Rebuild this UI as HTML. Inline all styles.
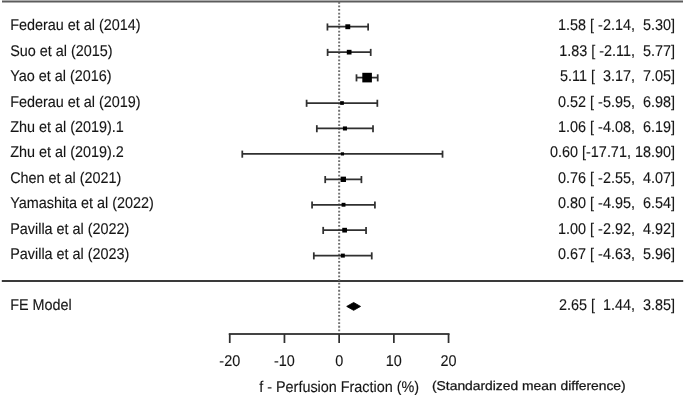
<!DOCTYPE html>
<html><head><meta charset="utf-8"><style>
html,body{margin:0;padding:0;background:#fff;width:685px;height:395px;overflow:hidden}
svg{display:block}
text{text-rendering:geometricPrecision;font-family:"Liberation Sans",Arial,sans-serif;font-size:14.4px;fill:#151515;stroke:#151515;stroke-width:0.12}
text.sm{font-size:13.85px;stroke-width:0.28}
</style></head><body>
<svg width="685" height="395" viewBox="0 0 685 395">
<line x1="2" y1="1.6" x2="683" y2="1.6" stroke="#5c5c5c" stroke-width="2"/>
<line x1="1.8" y1="281.1" x2="683.2" y2="281.1" stroke="#3a3a3a" stroke-width="2"/>
<line x1="339.15" y1="1.31" x2="339.15" y2="334" stroke="#707070" stroke-width="2" stroke-dasharray="1.8 1.8" stroke-dashoffset="-0.55"/>
<line x1="327.44" y1="26.74" x2="368.14" y2="26.74" stroke="#303030" stroke-width="1.75"/>
<line x1="327.44" y1="23.44" x2="327.44" y2="30.54" stroke="#303030" stroke-width="1.75"/>
<line x1="368.14" y1="23.44" x2="368.14" y2="30.54" stroke="#303030" stroke-width="1.75"/>
<rect x="345.35" y="24.30" width="4.89" height="4.89" fill="#000"/>
<text transform="translate(10.20 30.34) scale(1 1.08)" xml:space="preserve">Federau et al (2014)</text>
<text transform="translate(674.90 30.34) scale(1 1.08)" text-anchor="end" xml:space="preserve">1.58 [ -2.14,  5.30]</text>
<line x1="327.61" y1="52.17" x2="370.71" y2="52.17" stroke="#303030" stroke-width="1.75"/>
<line x1="327.61" y1="48.87" x2="327.61" y2="55.97" stroke="#303030" stroke-width="1.75"/>
<line x1="370.71" y1="48.87" x2="370.71" y2="55.97" stroke="#303030" stroke-width="1.75"/>
<rect x="346.81" y="49.82" width="4.70" height="4.70" fill="#000"/>
<text transform="translate(10.20 55.77) scale(1 1.08)" xml:space="preserve">Suo et al (2015)</text>
<text transform="translate(674.90 55.77) scale(1 1.08)" text-anchor="end" xml:space="preserve">1.83 [ -2.11,  5.77]</text>
<line x1="356.49" y1="77.60" x2="377.71" y2="77.60" stroke="#303030" stroke-width="1.75"/>
<line x1="356.49" y1="74.30" x2="356.49" y2="81.40" stroke="#303030" stroke-width="1.75"/>
<line x1="377.71" y1="74.30" x2="377.71" y2="81.40" stroke="#303030" stroke-width="1.75"/>
<rect x="362.30" y="72.80" width="9.60" height="9.60" fill="#000"/>
<text transform="translate(10.20 81.20) scale(1 1.08)" xml:space="preserve">Yao et al (2016)</text>
<text transform="translate(674.90 81.20) scale(1 1.08)" text-anchor="end" xml:space="preserve">5.11 [  3.17,  7.05]</text>
<line x1="306.60" y1="103.03" x2="377.33" y2="103.03" stroke="#303030" stroke-width="1.75"/>
<line x1="306.60" y1="99.73" x2="306.60" y2="106.83" stroke="#303030" stroke-width="1.75"/>
<line x1="377.33" y1="99.73" x2="377.33" y2="106.83" stroke="#303030" stroke-width="1.75"/>
<rect x="340.14" y="101.17" width="3.71" height="3.71" fill="#000"/>
<text transform="translate(10.20 106.63) scale(1 1.08)" xml:space="preserve">Federau et al (2019)</text>
<text transform="translate(674.90 106.63) scale(1 1.08)" text-anchor="end" xml:space="preserve">0.52 [ -5.95,  6.98]</text>
<line x1="316.83" y1="128.46" x2="373.01" y2="128.46" stroke="#303030" stroke-width="1.75"/>
<line x1="316.83" y1="125.16" x2="316.83" y2="132.26" stroke="#303030" stroke-width="1.75"/>
<line x1="373.01" y1="125.16" x2="373.01" y2="132.26" stroke="#303030" stroke-width="1.75"/>
<rect x="342.92" y="126.43" width="4.05" height="4.05" fill="#000"/>
<text transform="translate(10.20 132.06) scale(1 1.08)" xml:space="preserve">Zhu et al (2019).1</text>
<text transform="translate(674.90 132.06) scale(1 1.08)" text-anchor="end" xml:space="preserve">1.06 [ -4.08,  6.19]</text>
<line x1="242.28" y1="153.89" x2="442.53" y2="153.89" stroke="#303030" stroke-width="1.75"/>
<line x1="242.28" y1="150.59" x2="242.28" y2="157.69" stroke="#303030" stroke-width="1.75"/>
<line x1="442.53" y1="150.59" x2="442.53" y2="157.69" stroke="#303030" stroke-width="1.75"/>
<rect x="340.83" y="152.29" width="3.20" height="3.20" fill="#000"/>
<text transform="translate(10.20 157.49) scale(1 1.08)" xml:space="preserve">Zhu et al (2019).2</text>
<text transform="translate(674.90 157.49) scale(1 1.08)" text-anchor="end" xml:space="preserve">0.60 [-17.71, 18.90]</text>
<line x1="325.20" y1="179.32" x2="361.41" y2="179.32" stroke="#303030" stroke-width="1.75"/>
<line x1="325.20" y1="176.02" x2="325.20" y2="183.12" stroke="#303030" stroke-width="1.75"/>
<line x1="361.41" y1="176.02" x2="361.41" y2="183.12" stroke="#303030" stroke-width="1.75"/>
<rect x="340.63" y="176.64" width="5.35" height="5.35" fill="#000"/>
<text transform="translate(10.20 182.92) scale(1 1.08)" xml:space="preserve">Chen et al (2021)</text>
<text transform="translate(674.90 182.92) scale(1 1.08)" text-anchor="end" xml:space="preserve">0.76 [ -2.55,  4.07]</text>
<line x1="312.07" y1="204.75" x2="374.92" y2="204.75" stroke="#303030" stroke-width="1.75"/>
<line x1="312.07" y1="201.45" x2="312.07" y2="208.55" stroke="#303030" stroke-width="1.75"/>
<line x1="374.92" y1="201.45" x2="374.92" y2="208.55" stroke="#303030" stroke-width="1.75"/>
<rect x="341.59" y="202.82" width="3.87" height="3.87" fill="#000"/>
<text transform="translate(10.20 208.35) scale(1 1.08)" xml:space="preserve">Yamashita et al (2022)</text>
<text transform="translate(674.90 208.35) scale(1 1.08)" text-anchor="end" xml:space="preserve">0.80 [ -4.95,  6.54]</text>
<line x1="323.18" y1="230.18" x2="366.06" y2="230.18" stroke="#303030" stroke-width="1.75"/>
<line x1="323.18" y1="226.88" x2="323.18" y2="233.98" stroke="#303030" stroke-width="1.75"/>
<line x1="366.06" y1="226.88" x2="366.06" y2="233.98" stroke="#303030" stroke-width="1.75"/>
<rect x="342.26" y="227.82" width="4.71" height="4.71" fill="#000"/>
<text transform="translate(10.20 233.78) scale(1 1.08)" xml:space="preserve">Pavilla et al (2022)</text>
<text transform="translate(674.90 233.78) scale(1 1.08)" text-anchor="end" xml:space="preserve">1.00 [ -2.92,  4.92]</text>
<line x1="313.82" y1="255.61" x2="371.75" y2="255.61" stroke="#303030" stroke-width="1.75"/>
<line x1="313.82" y1="252.31" x2="313.82" y2="259.41" stroke="#303030" stroke-width="1.75"/>
<line x1="371.75" y1="252.31" x2="371.75" y2="259.41" stroke="#303030" stroke-width="1.75"/>
<rect x="340.82" y="253.61" width="4.00" height="4.00" fill="#000"/>
<text transform="translate(10.20 259.21) scale(1 1.08)" xml:space="preserve">Pavilla et al (2023)</text>
<text transform="translate(674.90 259.21) scale(1 1.08)" text-anchor="end" xml:space="preserve">0.67 [ -4.63,  5.96]</text>
<polygon points="346.73,306.42 353.65,302.52 360.51,306.42 353.65,310.32" fill="#000" stroke="#000" stroke-width="0.9"/>
<text transform="translate(10.20 309.72) scale(1 1.08)" xml:space="preserve">FE Model</text>
<text transform="translate(674.90 309.72) scale(1 1.08)" text-anchor="end" xml:space="preserve">2.65 [  1.44,  3.85]</text>
<line x1="228.75" y1="334" x2="449.55" y2="334" stroke="#444" stroke-width="2.2"/>
<line x1="229.75" y1="334" x2="229.75" y2="343" stroke="#303030" stroke-width="1.75"/>
<text transform="translate(229.75 366.10) scale(1 1.08)" text-anchor="middle" xml:space="preserve">-20</text>
<line x1="284.45" y1="334" x2="284.45" y2="343" stroke="#303030" stroke-width="1.75"/>
<text transform="translate(284.45 366.10) scale(1 1.08)" text-anchor="middle" xml:space="preserve">-10</text>
<line x1="339.15" y1="334" x2="339.15" y2="343" stroke="#303030" stroke-width="1.75"/>
<text transform="translate(339.15 366.10) scale(1 1.08)" text-anchor="middle" xml:space="preserve">0</text>
<line x1="393.85" y1="334" x2="393.85" y2="343" stroke="#303030" stroke-width="1.75"/>
<text transform="translate(393.85 366.10) scale(1 1.08)" text-anchor="middle" xml:space="preserve">10</text>
<line x1="448.55" y1="334" x2="448.55" y2="343" stroke="#303030" stroke-width="1.75"/>
<text transform="translate(448.55 366.10) scale(1 1.08)" text-anchor="middle" xml:space="preserve">20</text>
<text transform="translate(259.20 391.70) scale(1 1.08)" xml:space="preserve">f - Perfusion Fraction (%)</text>
<text transform="translate(432.00 389.80) scale(1 0.92)" class="sm" xml:space="preserve">(Standardized mean difference)</text>
</svg>
</body></html>
